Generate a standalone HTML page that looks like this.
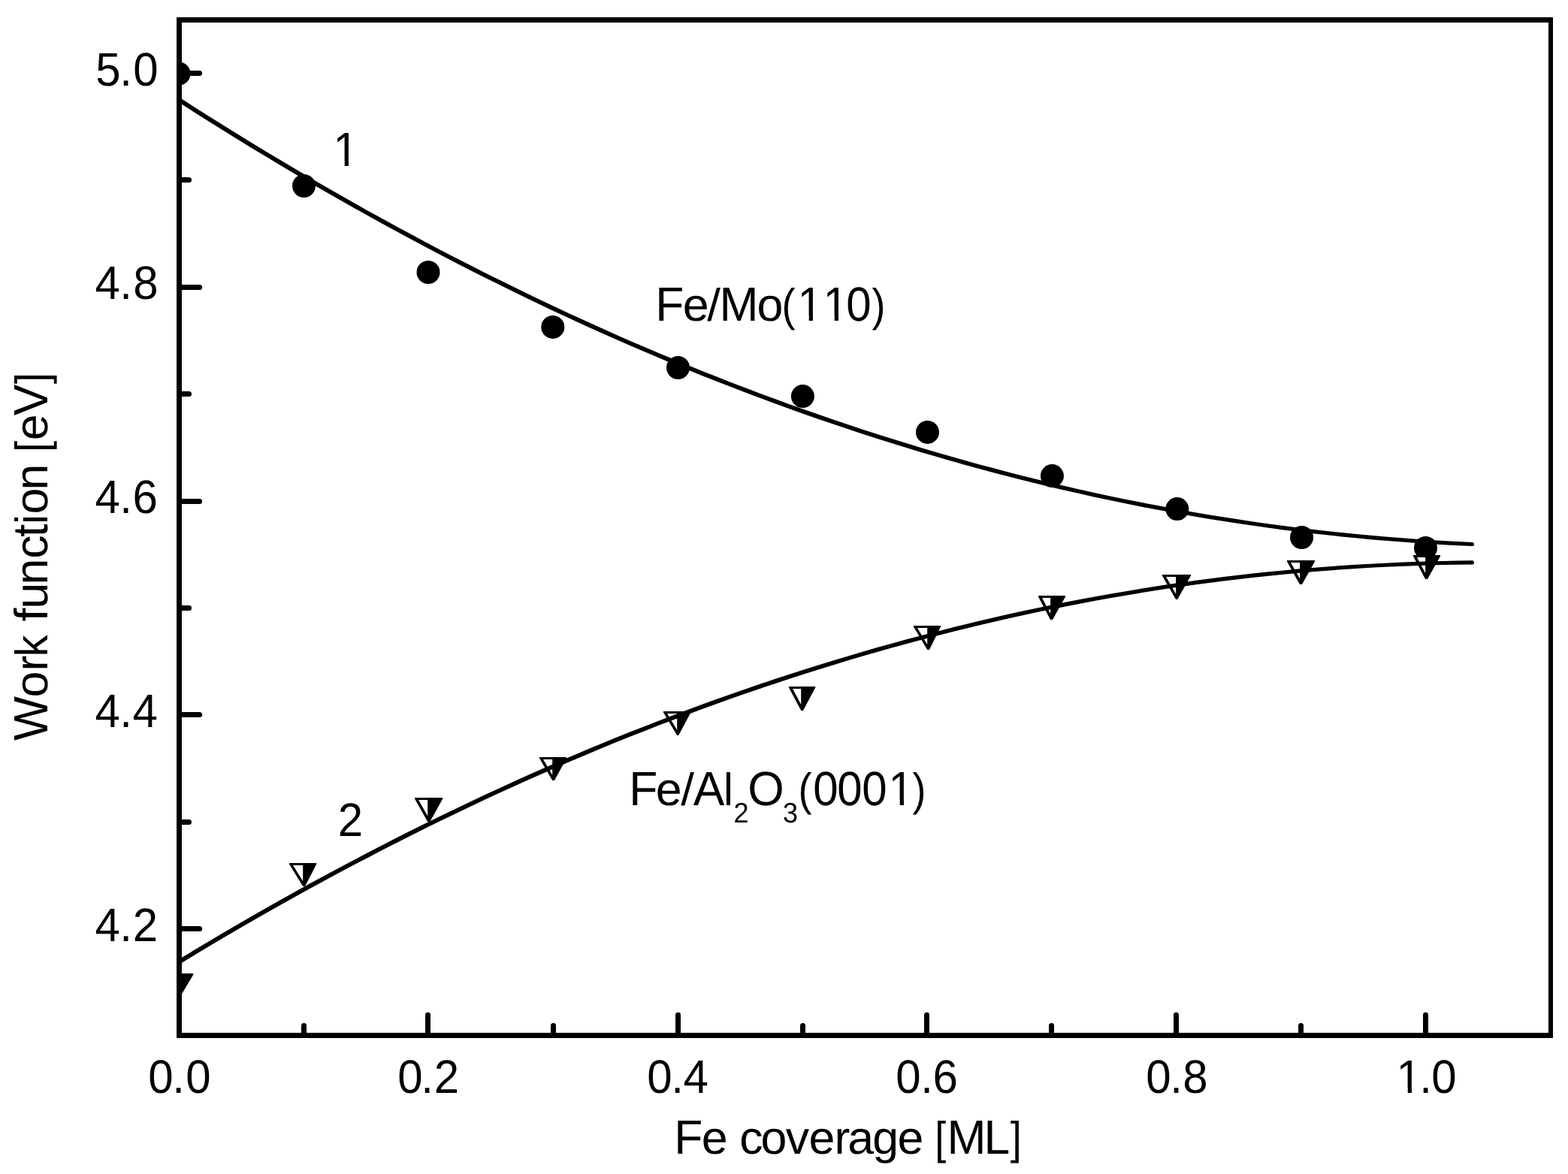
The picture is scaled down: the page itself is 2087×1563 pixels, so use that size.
<!DOCTYPE html>
<html lang="en"><head><meta charset="utf-8">
<title>Work function vs Fe coverage</title>
<style>
html,body{margin:0;padding:0;background:#fff;}
body{width:2087px;height:1563px;overflow:hidden;}
svg{display:block;}
text{font-family:"Liberation Sans", Arial, Helvetica, sans-serif;font-size:60px;fill:#000;white-space:pre;text-rendering:geometricPrecision;}
</style></head><body>
<svg xmlns="http://www.w3.org/2000/svg" width="2087" height="1563" viewBox="0 0 2087 1563">
<rect width="2087" height="1563" fill="#fff"/>
<defs>
<clipPath id="plot"><rect x="235.0" y="23.0" width="1832.0" height="1359.0"/></clipPath>
<clipPath id="k1"><path clip-rule="evenodd" d="M-60,-90H140.1V70H-60ZM3.07,-6.08H15.09V1.50H3.07ZM20.39,-6.08H31.94V1.50H20.39Z"/></clipPath>
<clipPath id="k2"><path clip-rule="evenodd" d="M-60,-90H93.4V70H-60ZM3.07,-6.08H15.09V1.50H3.07ZM20.39,-6.08H31.94V1.50H20.39Z"/></clipPath>
<clipPath id="k3"><path clip-rule="evenodd" d="M-60,-90H158.1V70H-60ZM3.07,-6.08H15.09V1.50H3.07ZM20.39,-6.08H31.94V1.50H20.39ZM37.07,-6.08H49.09V1.50H37.07ZM54.39,-6.08H65.94V1.50H54.39Z"/></clipPath>
<clipPath id="k4"><path clip-rule="evenodd" d="M-60,-90H193.7V70H-60ZM103.36,-6.08H115.38V1.50H103.36ZM120.68,-6.08H132.23V1.50H120.68Z"/></clipPath>
</defs>
<g clip-path="url(#plot)">
<g fill="#000">
<circle cx="238.0" cy="98.0" r="15.5"/>
<circle cx="404.5" cy="247.5" r="15.5"/>
<circle cx="570.0" cy="362.5" r="15.5"/>
<circle cx="735.8" cy="435.4" r="15.5"/>
<circle cx="902.5" cy="489.5" r="15.5"/>
<circle cx="1068.4" cy="527.6" r="15.5"/>
<circle cx="1234.5" cy="575.4" r="15.5"/>
<circle cx="1400.4" cy="633.6" r="15.5"/>
<circle cx="1566.8" cy="677.6" r="15.5"/>
<circle cx="1732.5" cy="715.5" r="15.5"/>
<circle cx="1897.5" cy="729.5" r="15.5"/>
</g>
<path fill="#000" d="M221.0,1296 H257.3 V1297.6 L239.2,1328 H236.5 L221.0,1297.6 Z"/>
<path fill="#fff" d="M226.00,1299.00 H239.00 V1324.50 Z"/>
<path fill="#000" d="M385.0,1149 H421.2 V1150.6 L406.0,1180 H403.2 L385.0,1150.6 Z"/>
<path fill="#fff" d="M390.00,1152.00 H403.20 V1173.32 Z"/>
<path fill="#000" d="M552.0,1062 H589.2 V1063.6 L572.3,1094 H569.2 L552.0,1063.6 Z"/>
<path fill="#fff" d="M557.00,1065.00 H569.20 V1086.56 Z"/>
<path fill="#000" d="M718.0,1008 H754.0 V1009.6 L738.0,1039 H735.2 L718.0,1009.6 Z"/>
<path fill="#fff" d="M723.00,1011.00 H735.20 V1031.85 Z"/>
<path fill="#000" d="M883.0,947 H919.5 V948.6 L903.2,979 H901.2 L883.0,948.6 Z"/>
<path fill="#fff" d="M888.00,950.00 H901.20 V972.05 Z"/>
<path fill="#000" d="M1050.0,914 H1085.2 V915.6 L1068.8,946.2 H1066.4 L1050.0,915.6 Z"/>
<path fill="#fff" d="M1055.00,917.00 H1066.20 V937.90 Z"/>
<path fill="#000" d="M1216.0,833 H1252.0 V834.6 L1237.0,865 H1234.2 L1216.0,834.6 Z"/>
<path fill="#fff" d="M1221.00,836.00 H1234.20 V858.05 Z"/>
<path fill="#000" d="M1382.0,793 H1418.0 V794.6 L1401.0,825 H1398.0 L1382.0,794.6 Z"/>
<path fill="#fff" d="M1387.00,796.00 H1398.10 V817.09 Z"/>
<path fill="#000" d="M1547.0,765 H1585.0 V766.6 L1567.2,798 H1565.0 L1547.0,766.6 Z"/>
<path fill="#fff" d="M1552.00,768.00 H1565.10 V790.85 Z"/>
<path fill="#000" d="M1713.0,746 H1750.0 V747.6 L1733.0,778 H1730.0 L1713.0,747.6 Z"/>
<path fill="#fff" d="M1718.00,749.00 H1730.10 V770.64 Z"/>
<path fill="#000" d="M1881.0,739 H1917.0 V740.6 L1900.0,771 H1897.1 L1881.0,740.6 Z"/>
<path fill="#fff" d="M1886.00,742.00 H1897.10 V762.96 Z"/>
</g>
<g fill="#000">
<path d="M238.5,129.49 L257.8,141.90 L277.2,154.18 L296.5,166.33 L315.8,178.35 L335.2,190.23 L354.5,201.99 L373.9,213.62 L393.2,225.11 L412.5,236.48 L431.9,247.71 L451.2,258.82 L470.5,269.79 L489.9,280.63 L509.2,291.34 L528.6,301.92 L547.9,312.37 L567.2,322.69 L586.6,332.88 L605.9,342.94 L625.2,352.86 L644.6,362.66 L663.9,372.32 L683.3,381.86 L702.6,391.26 L721.9,400.53 L741.3,409.67 L760.6,418.68 L779.9,427.56 L799.3,436.31 L818.6,444.93 L837.9,453.42 L857.3,461.78 L876.6,470.00 L896.0,478.10 L915.3,486.06 L934.6,493.89 L954.0,501.60 L973.3,509.17 L992.6,516.61 L1012.0,523.92 L1031.3,531.10 L1050.7,538.15 L1070.0,545.07 L1089.3,551.85 L1108.7,558.51 L1128.0,565.04 L1147.3,571.43 L1166.7,577.70 L1186.0,583.83 L1205.4,589.83 L1224.7,595.70 L1244.0,601.44 L1263.4,607.05 L1282.7,612.53 L1302.0,617.88 L1321.4,623.10 L1340.7,628.19 L1360.1,633.14 L1379.4,637.97 L1398.7,642.66 L1418.1,647.23 L1437.4,651.66 L1456.7,655.96 L1476.1,660.13 L1495.4,664.17 L1514.7,668.08 L1534.1,671.86 L1553.4,675.51 L1572.8,679.03 L1592.1,682.42 L1611.4,685.67 L1630.8,688.80 L1650.1,691.79 L1669.4,694.65 L1688.8,697.39 L1708.1,699.99 L1727.5,702.46 L1746.8,704.80 L1766.1,707.01 L1785.5,709.09 L1804.8,711.04 L1824.1,712.85 L1843.5,714.54 L1862.8,716.10 L1882.2,717.52 L1901.5,718.82 L1920.8,719.98 L1940.2,721.01 L1959.5,721.91 L1959.5,727.05 L1940.2,726.16 L1920.8,725.15 L1901.5,724.01 L1882.2,722.74 L1862.8,721.33 L1843.5,719.80 L1824.1,718.13 L1804.8,716.34 L1785.5,714.41 L1766.1,712.35 L1746.8,710.16 L1727.5,707.84 L1708.1,705.39 L1688.8,702.81 L1669.4,700.10 L1650.1,697.26 L1630.8,694.29 L1611.4,691.18 L1592.1,687.95 L1572.8,684.58 L1553.4,681.08 L1534.1,677.46 L1514.7,673.70 L1495.4,669.81 L1476.1,665.79 L1456.7,661.64 L1437.4,657.36 L1418.1,652.95 L1398.7,648.40 L1379.4,643.73 L1360.1,638.93 L1340.7,633.99 L1321.4,628.92 L1302.0,623.73 L1282.7,618.40 L1263.4,612.94 L1244.0,607.35 L1224.7,601.63 L1205.4,595.78 L1186.0,589.80 L1166.7,583.69 L1147.3,577.44 L1128.0,571.07 L1108.7,564.57 L1089.3,557.93 L1070.0,551.16 L1050.7,544.27 L1031.3,537.24 L1012.0,530.08 L992.6,522.79 L973.3,515.37 L954.0,507.82 L934.6,500.14 L915.3,492.33 L896.0,484.38 L876.6,476.31 L857.3,468.10 L837.9,459.77 L818.6,451.30 L799.3,442.70 L779.9,433.97 L760.6,425.12 L741.3,416.13 L721.9,407.01 L702.6,397.75 L683.3,388.37 L663.9,378.86 L644.6,369.22 L625.2,359.44 L605.9,349.54 L586.6,339.50 L567.2,329.33 L547.9,319.03 L528.6,308.61 L509.2,298.05 L489.9,287.36 L470.5,276.54 L451.2,265.58 L431.9,254.50 L412.5,243.29 L393.2,231.95 L373.9,220.47 L354.5,208.86 L335.2,197.13 L315.8,185.26 L296.5,173.26 L277.2,161.13 L257.8,148.88 L238.5,136.48 Z"/>
<circle cx="1959.5" cy="724.48" r="2.57"/>
<path d="M238.5,1277.00 L257.8,1265.29 L277.2,1253.72 L296.5,1242.28 L315.8,1230.96 L335.2,1219.78 L354.5,1208.72 L373.9,1197.80 L393.2,1187.01 L412.5,1176.35 L431.9,1165.82 L451.2,1155.42 L470.5,1145.15 L489.9,1135.01 L509.2,1125.00 L528.6,1115.12 L547.9,1105.37 L567.2,1095.76 L586.6,1086.27 L605.9,1076.91 L625.2,1067.69 L644.6,1058.59 L663.9,1049.63 L683.3,1040.80 L702.6,1032.09 L721.9,1023.52 L741.3,1015.08 L760.6,1006.77 L779.9,998.58 L799.3,990.53 L818.6,982.61 L837.9,974.82 L857.3,967.17 L876.6,959.64 L896.0,952.24 L915.3,944.97 L934.6,937.83 L954.0,930.83 L973.3,923.95 L992.6,917.21 L1012.0,910.59 L1031.3,904.11 L1050.7,897.75 L1070.0,891.53 L1089.3,885.44 L1108.7,879.48 L1128.0,873.64 L1147.3,867.94 L1166.7,862.37 L1186.0,856.93 L1205.4,851.62 L1224.7,846.44 L1244.0,841.39 L1263.4,836.48 L1282.7,831.69 L1302.0,827.03 L1321.4,822.51 L1340.7,818.11 L1360.1,813.85 L1379.4,809.71 L1398.7,805.71 L1418.1,801.83 L1437.4,798.09 L1456.7,794.48 L1476.1,790.99 L1495.4,787.64 L1514.7,784.42 L1534.1,781.33 L1553.4,778.37 L1572.8,775.54 L1592.1,772.84 L1611.4,770.28 L1630.8,767.84 L1650.1,765.53 L1669.4,763.35 L1688.8,761.31 L1708.1,759.39 L1727.5,757.61 L1746.8,755.95 L1766.1,754.43 L1785.5,753.03 L1804.8,751.77 L1824.1,750.64 L1843.5,749.64 L1862.8,748.77 L1882.2,748.02 L1901.5,747.41 L1920.8,746.93 L1940.2,746.59 L1959.5,746.37 L1959.5,751.39 L1940.2,751.63 L1920.8,752.00 L1901.5,752.50 L1882.2,753.13 L1862.8,753.90 L1843.5,754.79 L1824.1,755.81 L1804.8,756.96 L1785.5,758.25 L1766.1,759.66 L1746.8,761.21 L1727.5,762.88 L1708.1,764.69 L1688.8,766.63 L1669.4,768.69 L1650.1,770.89 L1630.8,773.22 L1611.4,775.68 L1592.1,778.27 L1572.8,780.99 L1553.4,783.84 L1534.1,786.82 L1514.7,789.93 L1495.4,793.17 L1476.1,796.54 L1456.7,800.05 L1437.4,803.68 L1418.1,807.44 L1398.7,811.34 L1379.4,815.36 L1360.1,819.52 L1340.7,823.81 L1321.4,828.22 L1302.0,832.77 L1282.7,837.45 L1263.4,842.26 L1244.0,847.20 L1224.7,852.26 L1205.4,857.46 L1186.0,862.80 L1166.7,868.26 L1147.3,873.85 L1128.0,879.57 L1108.7,885.42 L1089.3,891.41 L1070.0,897.52 L1050.7,903.76 L1031.3,910.14 L1012.0,916.64 L992.6,923.28 L973.3,930.05 L954.0,936.94 L934.6,943.97 L915.3,951.13 L896.0,958.42 L876.6,965.83 L857.3,973.38 L837.9,981.06 L818.6,988.87 L799.3,996.82 L779.9,1004.89 L760.6,1013.09 L741.3,1021.42 L721.9,1029.89 L702.6,1038.48 L683.3,1047.20 L663.9,1056.06 L644.6,1065.04 L625.2,1074.16 L605.9,1083.41 L586.6,1092.78 L567.2,1102.29 L547.9,1111.93 L528.6,1121.70 L509.2,1131.60 L489.9,1141.63 L470.5,1151.79 L451.2,1162.08 L431.9,1172.50 L412.5,1183.05 L393.2,1193.73 L373.9,1204.54 L354.5,1215.49 L335.2,1226.56 L315.8,1237.77 L296.5,1249.10 L277.2,1260.57 L257.8,1272.16 L238.5,1283.89 Z"/>
<circle cx="1959.5" cy="748.88" r="2.51"/>
</g>
<g fill="#000">
<rect x="235.0" y="23.0" width="7.0" height="1359.0"/>
<rect x="2061.0" y="23.0" width="6.0" height="1359.0"/>
<rect x="235.0" y="23.0" width="1832.0" height="7.0"/>
<rect x="235.0" y="1375.0" width="1832.0" height="7.0"/>
</g>
<g fill="none" stroke="#000" stroke-width="7.0" stroke-linecap="round">
<line x1="238.5" y1="1378.0" x2="238.5" y2="1351.2"/>
<line x1="404.5" y1="1378.0" x2="404.5" y2="1365.5"/>
<line x1="569.5" y1="1378.0" x2="569.5" y2="1351.2"/>
<line x1="736.5" y1="1378.0" x2="736.5" y2="1365.5"/>
<line x1="902.5" y1="1378.0" x2="902.5" y2="1351.2"/>
<line x1="1068.5" y1="1378.0" x2="1068.5" y2="1365.5"/>
<line x1="1233.5" y1="1378.0" x2="1233.5" y2="1351.2"/>
<line x1="1399.5" y1="1378.0" x2="1399.5" y2="1365.5"/>
<line x1="1565.5" y1="1378.0" x2="1565.5" y2="1351.2"/>
<line x1="1731.5" y1="1378.0" x2="1731.5" y2="1365.5"/>
<line x1="1897.5" y1="1378.0" x2="1897.5" y2="1351.2"/>
<line x1="239.0" y1="97.5" x2="265.6" y2="97.5"/>
<line x1="239.0" y1="239.5" x2="251.5" y2="239.5"/>
<line x1="239.0" y1="382.5" x2="265.6" y2="382.5"/>
<line x1="239.0" y1="524.5" x2="251.5" y2="524.5"/>
<line x1="239.0" y1="667.5" x2="265.6" y2="667.5"/>
<line x1="239.0" y1="809.5" x2="251.5" y2="809.5"/>
<line x1="239.0" y1="951.5" x2="265.6" y2="951.5"/>
<line x1="239.0" y1="1094.5" x2="251.5" y2="1094.5"/>
<line x1="239.0" y1="1236.5" x2="265.6" y2="1236.5"/>
<line x1="239.0" y1="1378.5" x2="251.5" y2="1378.5"/>
</g>
<g><g transform="translate(197.32,1455.00) scale(1,1.045)"><text x="0.00 31.85 50.00" y="0">0.0</text></g></g>
<g><g transform="translate(529.32,1455.00) scale(1,1.045)"><text x="0.00 30.85 48.50" y="0">0.2</text></g></g>
<g><g transform="translate(861.32,1455.00) scale(1,1.045)"><text x="0.00 31.85 48.19" y="0">0.4</text></g></g>
<g><g transform="translate(1192.32,1455.00) scale(1,1.045)"><text x="0.00 32.85 49.29" y="0">0.6</text></g></g>
<g><g transform="translate(1525.32,1455.00) scale(1,1.045)"><text x="0.00 31.85 49.00" y="0">0.8</text></g></g>
<g><g transform="translate(1858.61,1455.00) scale(1,1.045)" clip-path="url(#k1)"><text x="0.00 30.56 46.71" y="0">1.0</text></g></g>
<g><g transform="translate(127.37,114.00) scale(1,1.045)"><text x="0.00 31.79 49.94" y="0">5.0</text></g></g>
<g><g transform="translate(126.51,398.00) scale(1,1.045)"><text x="0.00 32.66 50.81" y="0">4.8</text></g></g>
<g><g transform="translate(126.51,683.00) scale(1,1.045)"><text x="0.00 32.66 50.10" y="0">4.6</text></g></g>
<g><g transform="translate(126.51,968.00) scale(1,1.045)"><text x="0.00 32.66 50.00" y="0">4.4</text></g></g>
<g><g transform="translate(126.51,1253.00) scale(1,1.045)"><text x="0.00 32.66 50.31" y="0">4.2</text></g></g>
<g><g transform="translate(897.13,1536.00) scale(1.04,1.066)"><text x="0.00" y="0">F</text></g><g transform="translate(933.63,1536.00) scale(1.045,1.03)"><text x="0.00 33.37 48.51 75.54 107.37 136.84 169.26 186.23 217.84 249.76 283.13" y="0">e coverage </text></g><g transform="translate(1244.28,1536.00) scale(0.9,1.012)"><text x="0.00" y="0">[</text></g><g transform="translate(1260.51,1536.00) scale(1.04,1.066)"><text x="0.00 47.23" y="0">ML</text></g><g transform="translate(1344.71,1536.00) scale(0.9,1.012)"><text x="0.00" y="0">]</text></g></g>
<g><g transform="translate(63.00,985.98) rotate(-90) scale(1.04,1.066)"><text x="0.00" y="0">W</text></g><g transform="translate(63.00,928.44) rotate(-90) scale(1.045,1.03)"><text x="0.00 33.43" y="0">or</text></g><g transform="translate(63.00,874.55) rotate(-90) scale(0.97,1.012)"><text x="0.00 30.00" y="0">k </text></g><g transform="translate(63.00,827.51) rotate(-90) scale(1.08,1.04)"><text x="0.00" y="0">f</text></g><g transform="translate(63.00,810.39) rotate(-90) scale(1.045,1.03)"><text x="0.00 30.53 63.84" y="0">unc</text></g><g transform="translate(63.00,714.91) rotate(-90) scale(1.04,1.1)"><text x="0.00" y="0">t</text></g><g transform="translate(63.00,697.95) rotate(-90) scale(0.97,1.012)"><text x="0.00" y="0">i</text></g><g transform="translate(63.00,684.44) rotate(-90) scale(1.045,1.03)"><text x="0.00 30.58 63.95" y="0">on </text></g><g transform="translate(63.00,601.72) rotate(-90) scale(0.9,1.012)"><text x="0.00" y="0">[</text></g><g transform="translate(63.00,586.37) rotate(-90) scale(1.045,1.03)"><text x="0.00" y="0">e</text></g><g transform="translate(63.00,553.31) rotate(-90) scale(1.04,1.066)"><text x="0.00" y="0">V</text></g><g transform="translate(63.00,511.29) rotate(-90) scale(0.9,1.012)"><text x="0.00" y="0">]</text></g></g>
<g><g transform="translate(443.61,221.00) scale(1,1.066)" clip-path="url(#k2)"><text x="0.00" y="0">1</text></g></g>
<g><g transform="translate(449.82,1113.00) scale(1,1.045)"><text x="0.00" y="0">2</text></g></g>
<g><g transform="translate(872.13,427.00) scale(1.04,1.066)"><text x="0.00" y="0">F</text></g><g transform="translate(908.63,427.00) scale(1.045,1.03)"><text x="0.00" y="0">e</text></g><g transform="translate(941.16,427.00) scale(1.06,1.012)"><text x="0.00" y="0">/</text></g><g transform="translate(957.51,427.00) scale(1.04,1.066)"><text x="0.00" y="0">M</text></g><g transform="translate(1007.56,427.00) scale(1.045,1.03)"><text x="0.00" y="0">o</text></g><g transform="translate(1040.49,427.00) scale(0.9,1.012)"><text x="0.00" y="0">(</text></g><g transform="translate(1061.61,427.00) scale(1,1.066)" clip-path="url(#k3)"><text x="0.00 34.00 64.71" y="0">110</text></g><g transform="translate(1160.52,427.00) scale(0.9,1.012)"><text x="0.00" y="0">)</text></g></g>
<g><g transform="translate(837.13,1072.00) scale(1.04,1.066)"><text x="0.00" y="0">F</text></g><g transform="translate(872.63,1072.00) scale(1.045,1.03)"><text x="0.00" y="0">e</text></g><g transform="translate(906.16,1072.00) scale(1.06,1.012)"><text x="0.00" y="0">/</text></g><g transform="translate(922.69,1072.00) scale(1.04,1.066)"><text x="0.00" y="0">A</text></g><g transform="translate(963.02,1072.00) scale(0.97,1.012)"><text x="0.00" y="0">l</text></g><g transform="translate(976.49,1095.00) scale(1,1.045)"><text x="0.00" y="0" style="font-size:36px">2</text></g><g transform="translate(995.25,1072.00) scale(1.04,1.066)"><text x="0.00" y="0">O</text></g><g transform="translate(1042.09,1095.00) scale(1,1.045)"><text x="0.00" y="0" style="font-size:36px">3</text></g><g transform="translate(1062.49,1072.00) scale(0.9,1.012)"><text x="0.00" y="0">(</text></g><g transform="translate(1082.32,1072.00) scale(1,1.066)" clip-path="url(#k4)"><text x="0.00 32.00 65.00 100.29" y="0">0001</text></g><g transform="translate(1214.52,1072.00) scale(0.9,1.012)"><text x="0.00" y="0">)</text></g></g>
</svg></body></html>
